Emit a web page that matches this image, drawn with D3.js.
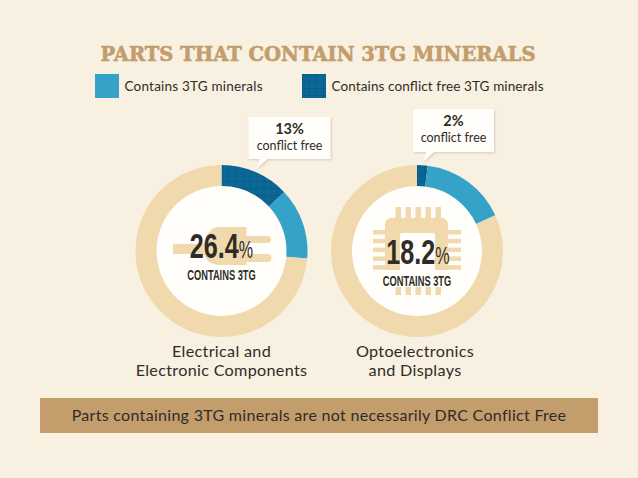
<!DOCTYPE html>
<html>
<head>
<meta charset="utf-8">
<script src="https://cdn.jsdelivr.net/npm/d3@7"></script>
<style>
  html, body { margin: 0; padding: 0; background: #f8f0e1; }
  svg { display: block; }
</style>
</head>
<body>
<div id="chart"></div>
<script>
// values
var titleText = 'PARTS THAT CONTAIN 3TG MINERALS';
var legendLabels = ['Contains 3TG minerals', 'Contains conflict free 3TG minerals'];
var footerText = 'Parts containing 3TG minerals are not necessarily DRC Conflict Free';

var categories = [['Electrical and', 'Electronic Components'], ['Optoelectronics', 'and Displays']];
var containsPct = [26.4, 18.2];
var conflictFreePct = [13, 2];

var width = 638, height = 478;
var sandColor = '#f0d9ac', blueColor = '#35a2c8', darkColor = '#0b6795', tanColor = '#c49d6c', inkColor = '#2f2c28', paperColor = '#fffefa';
var bodyFont = 'Lato, "Open Sans", sans-serif';
var narrowFont = '"Liberation Sans", sans-serif';

var svg = d3.select('#chart').append('svg')
    .attr('width', width)
    .attr('height', height);

svg.append('rect').attr('width', width).attr('height', height).attr('fill', '#f8f0e1');

// grid texture for the conflict free parts
var pattern = svg.append('defs').append('pattern')
    .attr('id', 'grid')
    .attr('width', 7).attr('height', 7)
    .attr('patternUnits', 'userSpaceOnUse');
pattern.append('rect').attr('width', 7).attr('height', 7).attr('fill', darkColor);
pattern.append('path').attr('d', 'M7 0H0V7').attr('fill', 'none').attr('stroke', '#08527a').attr('stroke-width', 0.8);

svg.append('text')
    .attr('x', 318).attr('y', 61)
    .attr('text-anchor', 'middle')
    .attr('font-family', '"DejaVu Serif", serif')
    .attr('font-weight', 'bold')
    .attr('font-size', 20)
    .attr('textLength', 435)
    .attr('lengthAdjust', 'spacingAndGlyphs')
    .attr('fill', tanColor)
    .attr('stroke', tanColor)
    .attr('stroke-width', 0.6)
    .text(titleText);

// legend
var legendX = d3.scaleOrdinal().domain(legendLabels).range([95, 302]);
var legend = svg.selectAll('.legend').data(legendLabels).enter().append('g')
    .attr('class', 'legend')
    .attr('transform', function (d) { return 'translate(' + legendX(d) + ',74)'; });
legend.append('rect')
    .attr('width', 24).attr('height', 24)
    .attr('fill', function (d, i) { return i === 0 ? blueColor : 'url(#grid)'; });
legend.append('text')
    .attr('x', 29.5).attr('y', 16.5)
    .attr('font-family', bodyFont)
    .attr('font-size', 13.5)
    .attr('textLength', function (d, i) { return i === 0 ? 138 : 212; })
    .attr('fill', inkColor)
    .text(function (d) { return d; });

// donuts
var centerX = d3.scaleOrdinal().domain([0, 1]).range([221.5, 417]);
var centerY = 251;
var pie = d3.pie().sort(null).value(function (d) { return d.value; });
var arc = d3.arc().innerRadius(65).outerRadius(86);
var sliceColors = ['url(#grid)', blueColor, sandColor];

// callout boxes, relative to the donut centre
var callouts = [
    { left: 27, top: -134, w: 82, h: 42, tipX: 35, tipY: -82, baseX: 38 },
    { left: -4, top: -142, w: 81, h: 43, tipX: 6, tipY: -89, baseX: 9 }
];

containsPct.forEach(function (pct, i) {
    var g = svg.append('g').attr('transform', 'translate(' + centerX(i) + ',' + centerY + ')');
    var slices = [
        { value: conflictFreePct[i] },
        { value: pct - conflictFreePct[i] },
        { value: 100 - pct }
    ];

    g.append('circle').attr('r', 65).attr('fill', paperColor);

    if (i === 0) {
        // plug icon
        g.append('path')
            .attr('fill', sandColor)
            .attr('d', 'M-48.5 -7H-18C-15 -18 -10 -24 -2 -24H25V-15H46A3.5 3.5 0 0 1 46 -8H25V3H46A4 4 0 0 1 46 11H25V14H-2C-10 14 -15 10 -18 3H-48.5Z');
    } else {
        // chip icon
        var chip = g.append('g').attr('fill', sandColor);
        chip.append('rect').attr('x', -32).attr('y', -33).attr('width', 63).attr('height', 60).attr('rx', 6);
        d3.range(5).forEach(function (k) {
            chip.append('rect').attr('x', -21.5 + k * 10).attr('y', -44).attr('width', 5.5).attr('height', 88);
            chip.append('rect').attr('x', -44).attr('y', -21 + k * 8.8).attr('width', 88).attr('height', 4.5);
        });
        chip.append('rect').attr('x', -17).attr('y', -18).attr('width', 35).attr('height', 38).attr('rx', 2).attr('fill', paperColor);
        // white band behind the label
        chip.append('rect').attr('x', -50).attr('y', 19).attr('width', 100).attr('height', 17).attr('fill', paperColor);
    }

    g.selectAll('path.slice').data(pie(slices)).enter().append('path')
        .attr('class', 'slice')
        .attr('d', arc)
        .attr('fill', function (d, k) { return sliceColors[k]; });

    // centre figure
    var num = g.append('text')
        .attr('transform', 'translate(' + (i === 0 ? 0 : 1) + ',' + (i === 0 ? 6.5 : 12.5) + ') scale(0.7,1)')
        .attr('text-anchor', 'middle')
        .attr('font-family', narrowFont)
        .attr('font-weight', 'bold')
        .attr('fill', inkColor);
    num.append('tspan').attr('font-size', 36).text(pct.toFixed(1));
    num.append('tspan').attr('font-size', 23).attr('font-weight', 'normal').text('%');

    g.append('text')
        .attr('transform', 'translate(0,' + (i === 0 ? 28.5 : 34.5) + ') scale(0.62,1)')
        .attr('text-anchor', 'middle')
        .attr('font-family', narrowFont)
        .attr('font-weight', 'bold')
        .attr('font-size', 15)
        .attr('fill', inkColor)
        .text('CONTAINS 3TG');

    // callout
    var c = callouts[i];
    var bottom = c.top + c.h;
    g.append('path')
        .attr('fill', paperColor)
        .style('filter', 'drop-shadow(1px 1px 1px rgba(120,100,70,0.25))')
        .attr('d', 'M' + c.left + ' ' + c.top + 'h' + c.w + 'v' + c.h +
            'H' + (c.baseX + 8) + 'L' + c.tipX + ' ' + c.tipY + 'L' + c.baseX + ' ' + bottom + 'H' + c.left + 'Z');
    g.append('text')
        .attr('x', c.left + c.w / 2).attr('y', c.top + 17)
        .attr('text-anchor', 'middle')
        .attr('font-family', bodyFont).attr('font-weight', 'bold').attr('font-size', 14.5)
        .attr('fill', inkColor)
        .text(conflictFreePct[i] + '%');
    g.append('text')
        .attr('x', c.left + c.w / 2).attr('y', c.top + 33)
        .attr('text-anchor', 'middle')
        .attr('font-family', bodyFont).attr('font-size', 12.5)
        .attr('fill', inkColor)
        .text('conflict free');

    // category label
    g.selectAll('text.cat').data(categories[i]).enter().append('text')
        .attr('class', 'cat')
        .attr('x', i === 0 ? 0 : -2)
        .attr('y', function (d, k) { return 106 + k * 19; })
        .attr('text-anchor', 'middle')
        .attr('font-family', bodyFont)
        .attr('font-size', 16.2)
        .attr('letter-spacing', 0.3)
        .attr('fill', inkColor)
        .text(function (d) { return d; });
});

// footer band
svg.append('rect')
    .attr('x', 40).attr('y', 398)
    .attr('width', 558).attr('height', 35)
    .attr('fill', tanColor);
svg.append('text')
    .attr('x', 319).attr('y', 421)
    .attr('text-anchor', 'middle')
    .attr('font-family', bodyFont)
    .attr('font-size', 16)
    .attr('letter-spacing', 0.3)
    .attr('fill', '#2f2c28')
    .text(footerText);
</script>
</body>
</html>
